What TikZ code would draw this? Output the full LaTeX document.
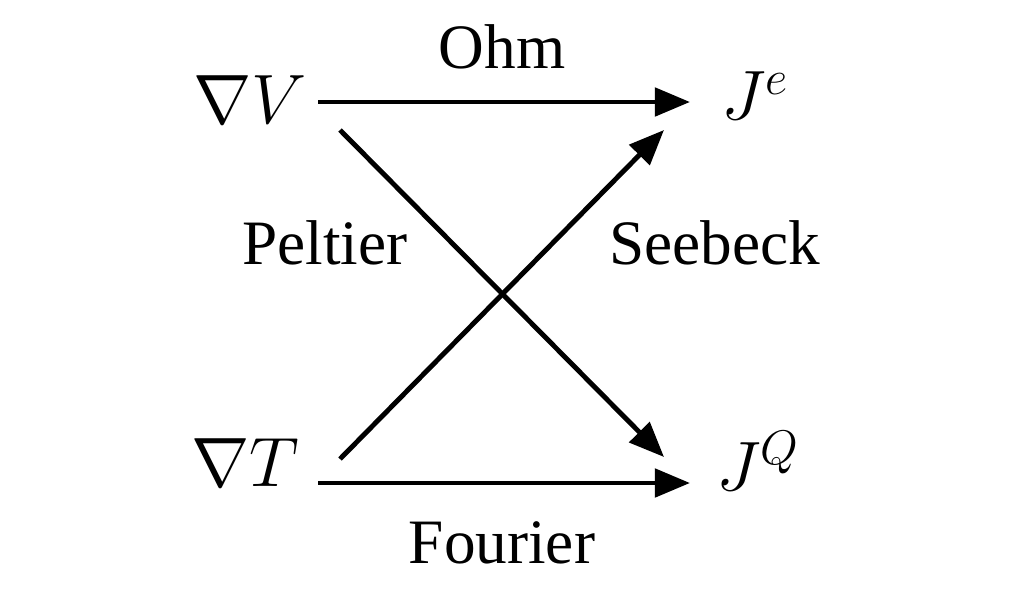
\documentclass[tikz,border=0pt]{standalone}
\usepackage{fontspec}
\setmainfont{Liberation Serif}
\usetikzlibrary{arrows.meta}
\newcommand{\mybigmath}[1]{\scalebox{1.6}{\fontsize{24}{28}\selectfont$#1$}}
\begin{document}
\begin{tikzpicture}[x=0.02cm,y=-0.02cm,
 lab/.style={font=\fontsize{36}{42}\selectfont},
 arr/.style={line width=2.8pt,-{Triangle[length=20pt,width=16pt]}}]
\useasboundingbox (0,0) rectangle (1015,592);
\node[lab] (gV) at (250,100) {\mybigmath{\nabla V}};
\node[lab] (gT) at (245,463) {\mybigmath{\nabla T}};
\node[lab] (Je) at (755,96) {\mybigmath{J^e}};
\node[lab] (JQ) at (758,461) {\mybigmath{J^Q}};
\node[lab] (ohm) at (502,47) {Ohm};
\node[lab] (fou) at (502,543) {Fourier};
\node[lab] (pel) at (325,243) {Peltier};
\node[lab] (see) at (715,243) {Seebeck};
\coordinate (a1) at (318,102); \coordinate (b1) at (690,102);
\coordinate (a2) at (318,483); \coordinate (b2) at (690,483);
\coordinate (a3) at (340,130); \coordinate (b3) at (664,457);
\coordinate (a4) at (340,459); \coordinate (b4) at (664,130);
\draw[arr] (a1) -- (b1);
\draw[arr] (a2) -- (b2);
\draw[arr] (a3) -- (b3);
\draw[arr] (a4) -- (b4);
\end{tikzpicture}
\end{document}
